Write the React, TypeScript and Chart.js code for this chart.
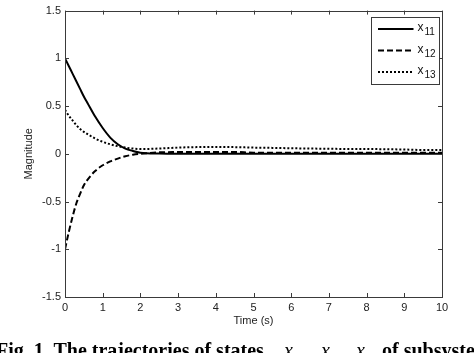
import React, { useEffect, useRef } from "react";
import { Chart, registerables } from "chart.js";

Chart.register(...registerables);

const timeS = [0, 0.1, 0.2, 0.3, 0.4, 0.5, 0.6, 0.8, 1.0, 1.2, 1.4, 1.6, 1.8, 2.0, 2.5, 3, 3.5, 4, 4.5, 5, 5.5, 6, 6.5, 7, 7.5, 8, 8.5, 9, 9.5, 10];
const x11 = [1.0, 0.92, 0.84, 0.76, 0.68, 0.6, 0.53, 0.39, 0.27, 0.17, 0.10, 0.055, 0.03, 0.012, 0.002, 0, 0, 0, 0, 0, 0, 0, 0, 0, 0, 0, 0, 0, 0, 0];
const x12 = [-1.0, -0.82, -0.66, -0.52, -0.42, -0.33, -0.27, -0.18, -0.12, -0.08, -0.05, -0.025, -0.01, 0.0, 0.015, 0.018, 0.02, 0.02, 0.02, 0.012, 0.012, 0.012, 0.011, 0.011, 0.01, 0.01, 0.01, 0.01, 0.01, 0.01];
const x13 = [0.46, 0.40, 0.35, 0.30, 0.26, 0.23, 0.205, 0.16, 0.125, 0.10, 0.08, 0.065, 0.055, 0.05, 0.055, 0.065, 0.07, 0.072, 0.07, 0.065, 0.062, 0.058, 0.055, 0.053, 0.05, 0.05, 0.048, 0.045, 0.04, 0.04];

const seriesNames = ["x11", "x12", "x13"];
const seriesDashes = [[], [6, 3], [2, 2]];
const xTickValues = [0, 1, 2, 3, 4, 5, 6, 7, 8, 9, 10];
const yTickValues = [-1.5, -1, -0.5, 0, 0.5, 1, 1.5];
const yTickLabels = ["-1.5", "-1", "-0.5", "0", "0.5", "1", "1.5"];
const xTitle = "Time (s)";
const yTitle = "Magnitude";
const captionHead = "Fig. 1. The trajectories of states";
const captionTail = "of subsystem 1";

const FONT = "'Liberation Sans', Arial, Helvetica, sans-serif";
const SERIF = "'Liberation Serif', 'Times New Roman', serif";
const AXIS_COLOR = "#3a3a3a";

const framePlugin = {
  id: "matlabFrame",
  afterDatasetsDraw(chart: any) {
    const { ctx, chartArea } = chart;
    const { left, right, top, bottom } = chartArea;
    const xs = chart.scales.x;
    const ys = chart.scales.y;
    ctx.save();
    ctx.strokeStyle = AXIS_COLOR;
    ctx.lineWidth = 1;
    ctx.setLineDash([]);
    ctx.strokeRect(Math.round(left) + 0.5, Math.round(top) + 0.5, Math.round(right - left), Math.round(bottom - top));
    const tl = 4;
    ctx.beginPath();
    xTickValues.forEach((v) => {
      const px = Math.round(xs.getPixelForValue(v)) + 0.5;
      ctx.moveTo(px, bottom);
      ctx.lineTo(px, bottom - tl);
      ctx.moveTo(px, top);
      ctx.lineTo(px, top + tl);
    });
    yTickValues.forEach((v) => {
      const py = Math.round(ys.getPixelForValue(v)) + 0.5;
      ctx.moveTo(left, py);
      ctx.lineTo(left + tl, py);
      ctx.moveTo(right, py);
      ctx.lineTo(right - tl, py);
    });
    ctx.stroke();

    // legend
    const bw = 68;
    const bh = 67;
    const bx = Math.round(right - 3 - bw) + 0.5;
    const by = Math.round(top + 6) + 0.5;
    ctx.fillStyle = "#fff";
    ctx.fillRect(bx, by, bw, bh);
    ctx.strokeStyle = AXIS_COLOR;
    ctx.lineWidth = 1;
    ctx.strokeRect(bx, by, bw, bh);
    chart.data.datasets.forEach((ds: any, i: number) => {
      const yy = by + 11.5 + i * 21.5;
      ctx.beginPath();
      ctx.strokeStyle = "#000";
      ctx.lineWidth = 2;
      ctx.setLineDash(ds.borderDash || []);
      ctx.moveTo(bx + 6.5, yy);
      ctx.lineTo(bx + 42, yy);
      ctx.stroke();
      ctx.setLineDash([]);
      const name: string = ds.label;
      ctx.fillStyle = "#111";
      ctx.textBaseline = "alphabetic";
      ctx.textAlign = "left";
      ctx.font = `12px ${FONT}`;
      ctx.fillText(name.charAt(0), bx + 46, yy + 2);
      ctx.font = `10px ${FONT}`;
      ctx.fillText(name.slice(1), bx + 53, yy + 6);
    });
    ctx.restore();
  },
};

const capBase: React.CSSProperties = {
  position: "absolute",
  top: 340,
  whiteSpace: "nowrap",
  fontFamily: SERIF,
  fontSize: 20,
  lineHeight: "20px",
  color: "#000",
};

export default function App() {
  const ref = useRef<HTMLCanvasElement | null>(null);
  useEffect(() => {
    document.body.style.margin = "0";
    const canvas = ref.current;
    if (!canvas) return;
    const datasets = [x11, x12, x13].map((arr, i) => ({
      label: seriesNames[i],
      data: arr.map((v, k) => ({ x: timeS[k], y: v })),
      borderColor: "#000",
      backgroundColor: "#000",
      borderWidth: 2,
      borderDash: seriesDashes[i],
      pointRadius: 0,
      cubicInterpolationMode: "monotone" as const,
      fill: false,
    }));
    const chart = new Chart(canvas, {
      type: "line",
      data: { datasets },
      plugins: [framePlugin],
      options: {
        animation: false,
        responsive: false,
        maintainAspectRatio: false,
        layout: { padding: { left: 0, right: 32, top: 6, bottom: 0 } },
        plugins: { legend: { display: false }, tooltip: { enabled: false } },
        scales: {
          x: {
            type: "linear",
            min: 0,
            max: 10,
            afterBuildTicks: (s: any) => {
              s.ticks = xTickValues.map((v) => ({ value: v }));
            },
            afterFit: (s: any) => {
              s.height = 56;
            },
            grid: { display: false, drawTicks: false },
            border: { display: false },
            ticks: {
              padding: 4,
              color: "#222",
              font: { family: FONT, size: 11 },
              maxRotation: 0,
              callback: (v: any) => String(v),
            },
            title: {
              display: true,
              text: xTitle,
              color: "#222",
              font: { family: FONT, size: 11 },
              padding: { top: 0, bottom: 25 },
            },
          },
          y: {
            type: "linear",
            min: -1.5,
            max: 1.5,
            afterBuildTicks: (s: any) => {
              s.ticks = yTickValues.map((v) => ({ value: v }));
            },
            afterFit: (s: any) => {
              s.width = 65;
            },
            grid: { display: false, drawTicks: false },
            border: { display: false },
            ticks: {
              padding: 4,
              color: "#222",
              font: { family: FONT, size: 11 },
              callback: (v: any) => {
                const idx = yTickValues.indexOf(Number(v));
                return idx >= 0 ? yTickLabels[idx] : "";
              },
            },
            title: {
              display: true,
              text: yTitle,
              color: "#222",
              font: { family: FONT, size: 11 },
              padding: { top: 22, bottom: 0 },
            },
          },
        },
      },
    });
    return () => chart.destroy();
  }, []);

  const xLefts = [284, 321, 356];
  return (
    <div style={{ position: "fixed", left: 0, top: 0, width: 474, height: 353, overflow: "hidden", background: "#fff" }}>
      <canvas ref={ref} width={474} height={353} style={{ position: "absolute", left: 0, top: 0, width: 474, height: 353 }} />
      <div style={{ ...capBase, left: -4, fontWeight: "bold" }}>{captionHead}</div>
      {seriesNames.map((n, i) => (
        <div key={n} style={{ ...capBase, left: xLefts[i] }}>
          <i>{n.charAt(0)}</i>
          <sub style={{ fontSize: 13 }}>{n.slice(1)}</sub>
        </div>
      ))}
      <div style={{ ...capBase, left: 382, fontWeight: "bold" }}>{captionTail}</div>
    </div>
  );
}
